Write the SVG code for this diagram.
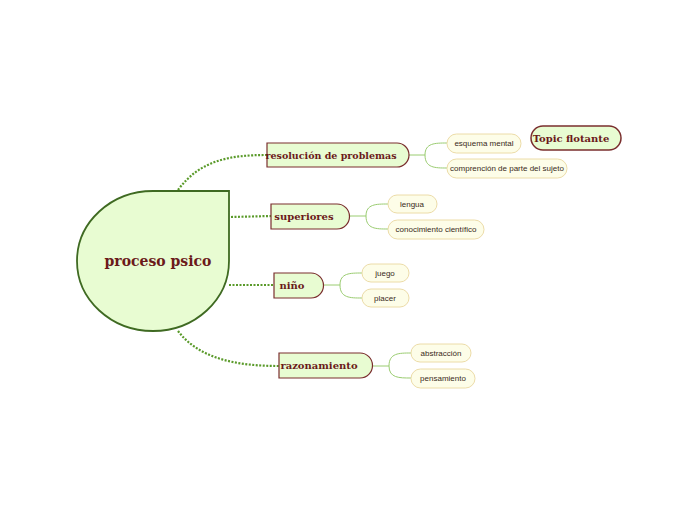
<svg xmlns="http://www.w3.org/2000/svg" width="697" height="520" viewBox="0 0 697 520">
<style>
.main{fill:#e8fcd2;stroke:#7a2e2e;stroke-width:1.2}
.sub{fill:#fdfde8;stroke:#ecdca8;stroke-width:1}
.t{font-family:"DejaVu Serif",serif;font-weight:bold;fill:#6b1a1a;font-size:10px}
.s{font-family:"Liberation Sans Narrow","Liberation Sans",sans-serif;fill:#3a2a1a;font-size:8px}
.dot{fill:none;stroke:#5a9a2a;stroke-width:2.2;stroke-dasharray:2 1.5}
.br{fill:none;stroke:#9acc70;stroke-width:1}
</style>
<g id="connectors">
<path class="dot" d="M178,190 C200,160 230,155 267,155"/>
<path class="dot" d="M231,217 L271,216"/>
<path class="dot" d="M229,285 L274,285"/>
<path class="dot" d="M178,331 C200,360 240,366 279,366"/>
<path class="br" d="M409,155 H425 M425,155 C425,143 435,143 447,143 M425,155 C425,168 435,168 447,168"/>
<path class="br" d="M349,216 H366 M366,216 C366,204 376,204 388,204 M366,216 C366,229 376,229 388,229"/>
<path class="br" d="M323,285 H340 M340,285 C340,273 350,273 362,273 M340,285 C340,298 350,298 362,298"/>
<path class="br" d="M372,366 H389 M389,366 C389,353 399,353 411,353 M389,366 C389,378 399,378 411,378"/>
</g>
<g id="center">
<path d="M229,191 L229,261 A76,70 0 1 1 153,191 Z" fill="#e8fcd2" stroke="#3f6a22" stroke-width="1.8"/>
<text class="t" x="158" y="266" text-anchor="middle" font-size="14" style="font-size:14px">proceso psico</text>
</g>
<g id="n1"><path class="main" d="M267,143 H397 A12,12 0 0 1 397,167 H267 Z"/><text class="t" x="331" y="159" text-anchor="middle" style="font-size:9.5px">resolución  de problemas</text></g>
<g id="n2"><path class="main" d="M271,204 H337 A12.5,12.5 0 0 1 337,229 H271 Z"/><text class="t" x="304" y="220" text-anchor="middle">superiores</text></g>
<g id="n3"><path class="main" d="M274,273 H311 A12.5,12.5 0 0 1 311,298 H274 Z"/><text class="t" x="292" y="289" text-anchor="middle">niño</text></g>
<g id="n4"><path class="main" d="M279,353 H360 A12.5,12.5 0 0 1 360,378 H279 Z"/><text class="t" x="319" y="369" text-anchor="middle">razonamiento</text></g>
<g id="float"><rect class="main" x="531" y="126" width="90" height="24" rx="12" style="stroke-width:1.5"/><text class="t" x="571" y="142" text-anchor="middle">Topic flotante</text></g>
<g id="s1"><rect class="sub" x="447" y="134" width="74" height="19" rx="9.5"/><text class="s" x="484" y="146" text-anchor="middle">esquema mental</text></g>
<g id="s2"><rect class="sub" x="447" y="159" width="120" height="19" rx="9.5"/><text class="s" x="507" y="171" text-anchor="middle">comprención de parte del sujeto</text></g>
<g id="s3"><rect class="sub" x="388" y="195" width="49" height="18" rx="9"/><text class="s" x="412" y="207" text-anchor="middle">lengua</text></g>
<g id="s4"><rect class="sub" x="388" y="220" width="96" height="19" rx="9.5"/><text class="s" x="436" y="232" text-anchor="middle">conocimiento científico</text></g>
<g id="s5"><rect class="sub" x="362" y="264" width="47" height="18" rx="9"/><text class="s" x="385" y="276" text-anchor="middle">juego</text></g>
<g id="s6"><rect class="sub" x="362" y="289" width="47" height="18" rx="9"/><text class="s" x="385" y="301" text-anchor="middle">placer</text></g>
<g id="s7"><rect class="sub" x="411" y="344" width="60" height="18" rx="9"/><text class="s" x="441" y="356" text-anchor="middle">abstracción</text></g>
<g id="s8"><rect class="sub" x="411" y="369" width="64" height="19" rx="9.5"/><text class="s" x="443" y="381" text-anchor="middle">pensamiento</text></g>
</svg>
